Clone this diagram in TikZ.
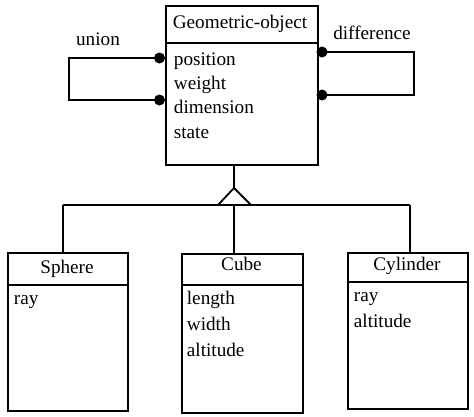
\documentclass[tikz,border=0pt]{standalone}
\usepackage{fontspec}
\setmainfont{Liberation Serif}
\begin{document}
\begin{tikzpicture}[x=1pt,y=-1pt,line width=1.8pt,
  box/.style={draw,rectangle,anchor=north west,inner sep=0pt,line width=1.8pt},
  lbl/.style={inner sep=0pt,font=\fontsize{19.2}{22}\selectfont},
  attr/.style={lbl,anchor=mid west},
  ttl/.style={lbl,anchor=mid},
  dot/.style={circle,fill=black,inner sep=0pt,minimum size=11pt}]
\useasboundingbox (0,0) rectangle (474,416);
% main class
\node[box,minimum width=152pt,minimum height=159pt] (geo) at (165,5) {};
\draw (165,43) -- (317,43);
\node[ttl] (geot) at (240,26) {Geometric-object};
\node[attr] (a1) at (173,63) {position};
\node[attr] (a2) at (173,87) {weight};
\node[attr] (a3) at (173,111) {dimension};
\node[attr] (a4) at (173,136) {state};
% union loop
\node[dot] (u1) at (159.5,58) {};
\node[dot] (u2) at (159.5,100) {};
\draw (u1.center) -- (69,58) -- (69,100) -- (u2.center);
\node[ttl] (ul) at (98,43) {union};
% difference loop
\node[dot] (d1) at (322,52) {};
\node[dot] (d2) at (322,95) {};
\draw (d1.center) -- (414,52) -- (414,95) -- (d2.center);
\node[ttl] (dl) at (372,37) {difference};
% generalization
\coordinate (apex) at (234,188);
\draw (geo.south -| apex) -- (apex);
\draw[line join=miter] (apex) -- (218,205) -- (251,205) -- cycle;
\draw (63,205) -- (410,205);
% subclasses
\node[box,minimum width=120pt,minimum height=158pt] (sph) at (7,252) {};
\draw (7,285) -- (127,285);
\node[ttl] (spht) at (67,271) {Sphere};
\node[attr] (s1) at (13,302) {ray};
\node[box,minimum width=121pt,minimum height=159pt] (cub) at (181,253) {};
\draw (181,285) -- (302,285);
\node[ttl] (cubt) at (241.5,268) {Cube};
\node[attr] (c1) at (186,302) {length};
\node[attr] (c2) at (186,328) {width};
\node[attr] (c3) at (186,354) {altitude};
\node[box,minimum width=120pt,minimum height=156pt] (cyl) at (347,252) {};
\draw (347,282) -- (467,282);
\node[ttl] (cylt) at (407,268) {Cylinder};
\node[attr] (y1) at (353,299) {ray};
\node[attr] (y2) at (353,325) {altitude};
\draw (63,205) -- (63,252);
\draw (apex |- 0,205) -- (apex |- cub.north);
\draw (410,205) -- (410,252);
\end{tikzpicture}
\end{document}
